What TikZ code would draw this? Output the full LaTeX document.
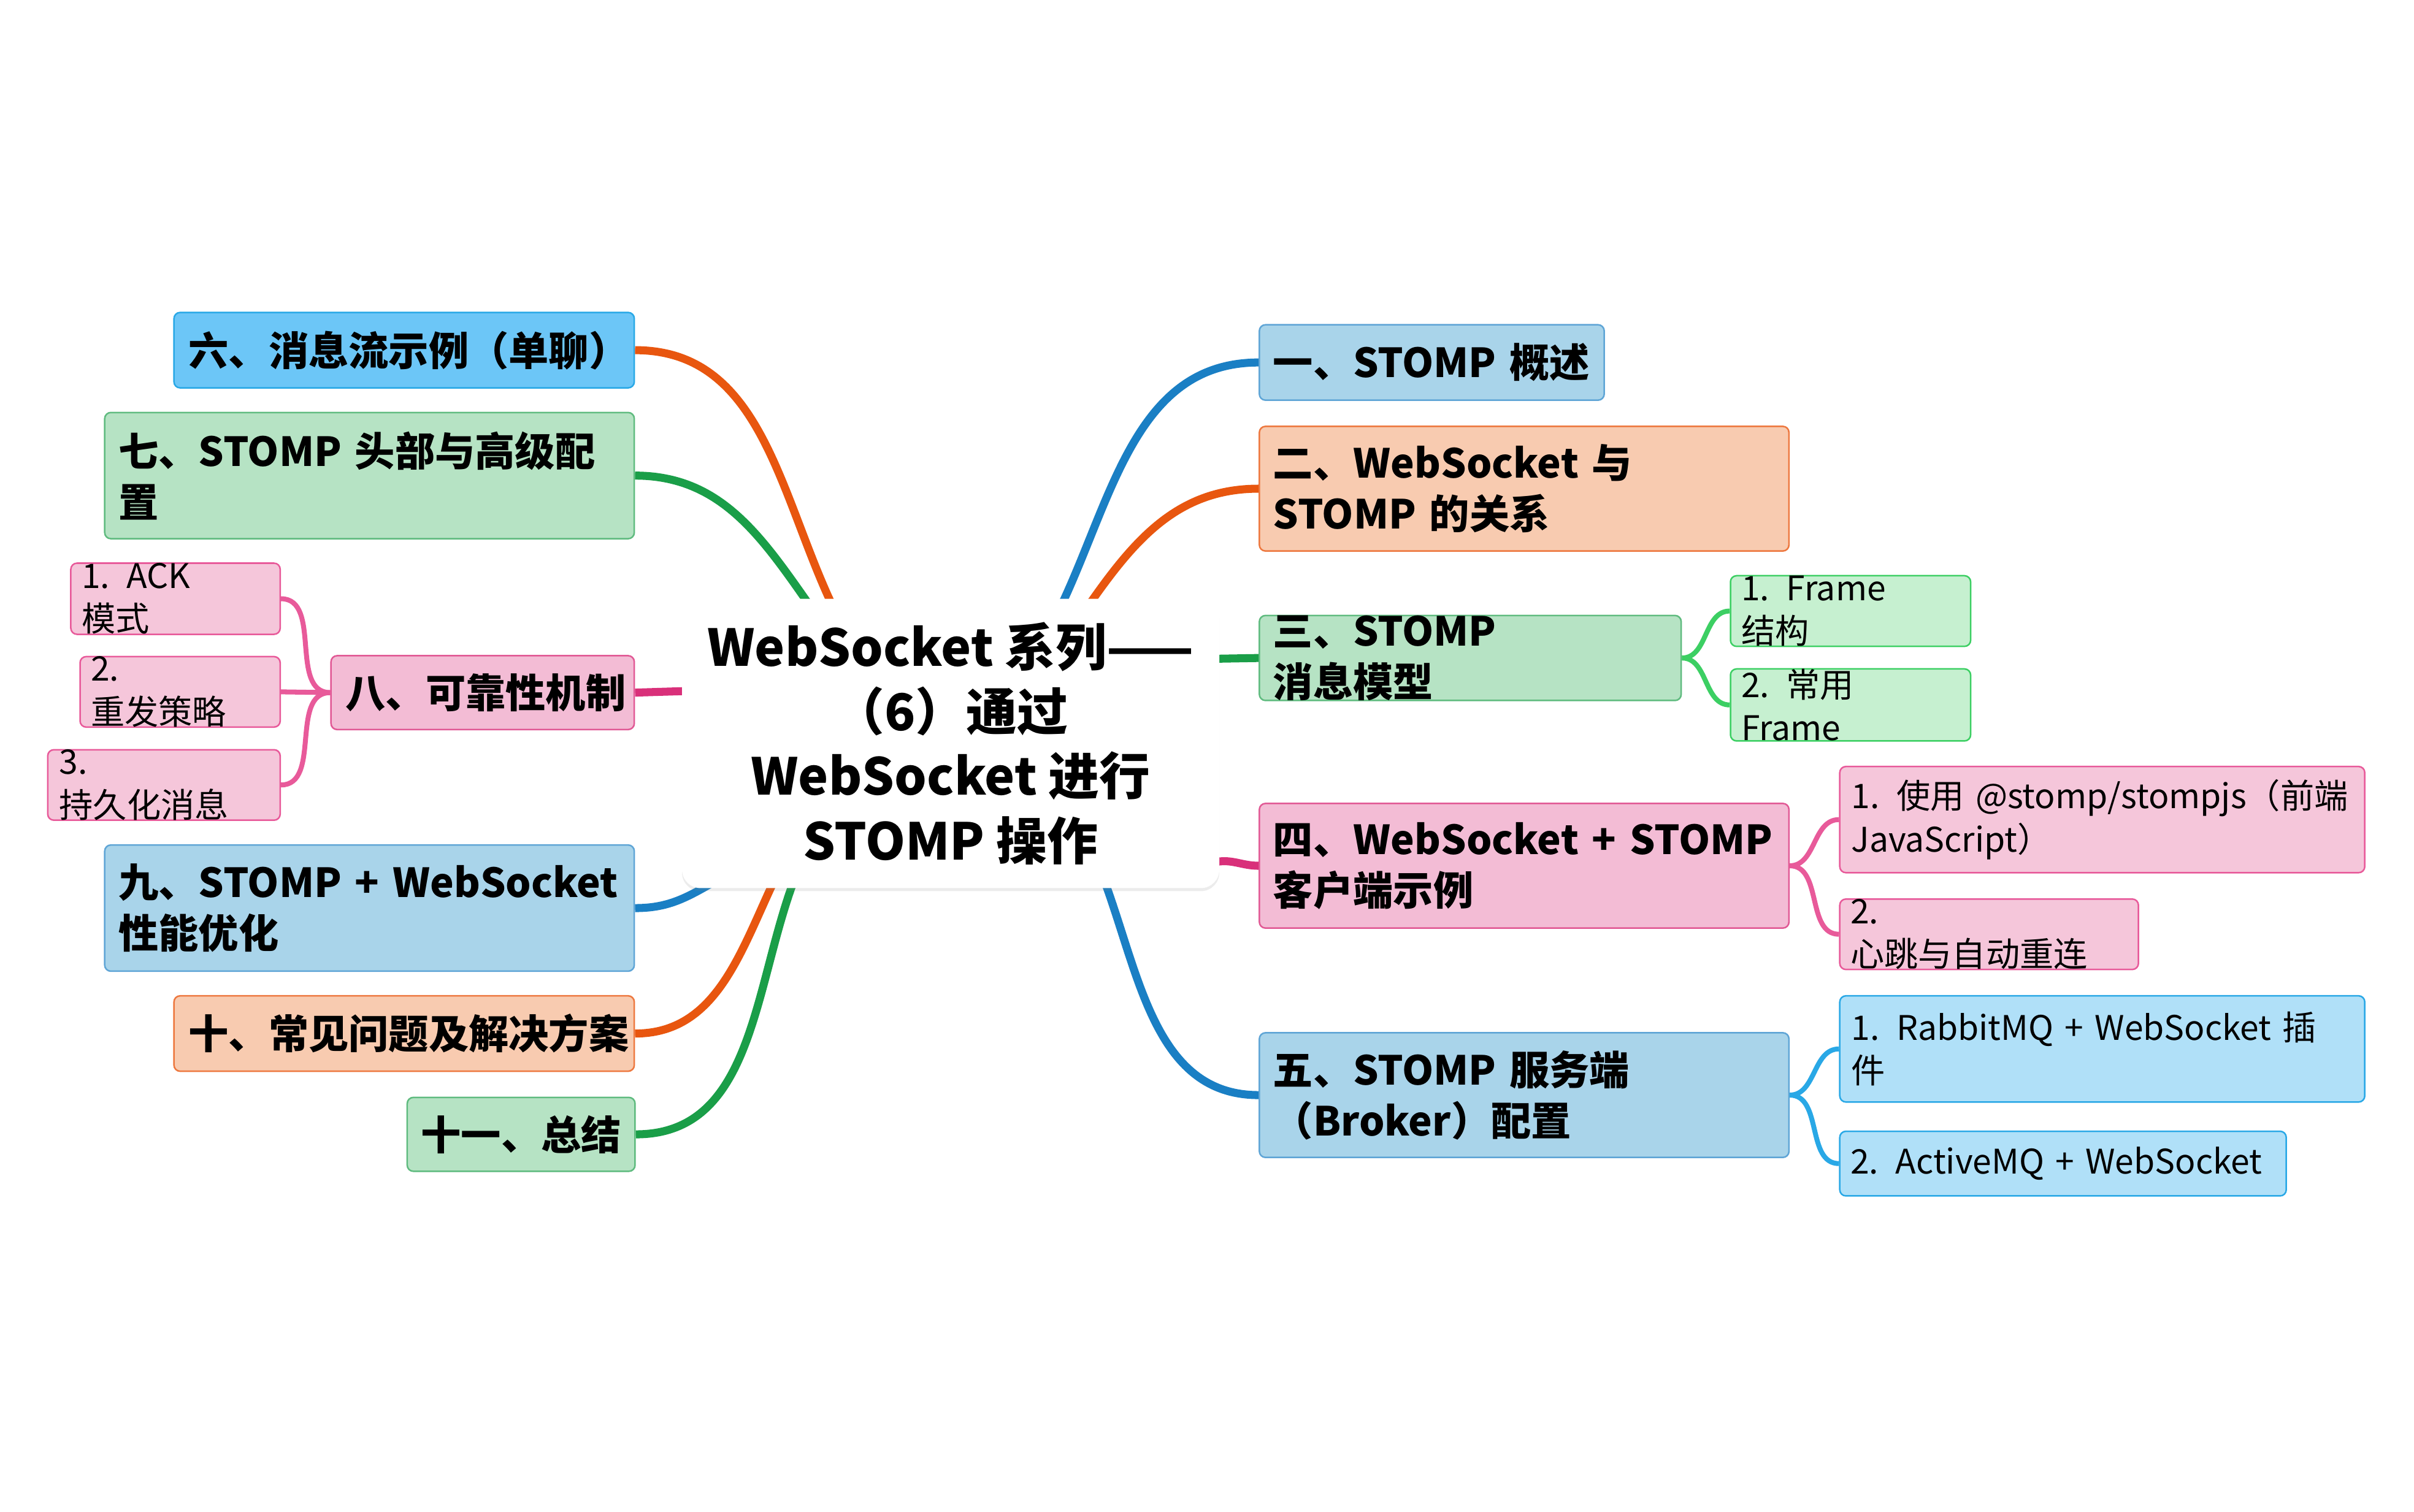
\documentclass[tikz,border=0pt]{standalone}
\usepackage{fontspec}
\setmainfont{Noto Sans CJK SC}
\usetikzlibrary{shadows}
\definecolor{lblue}{HTML}{A9D4EA}\definecolor{dblue}{HTML}{1A7FC4}
\definecolor{sky}{HTML}{6CC6F7}\definecolor{cyanf}{HTML}{B0E0F8}\definecolor{cyanl}{HTML}{29A8E6}
\definecolor{peach}{HTML}{F8CBB0}\definecolor{orng}{HTML}{E8560F}
\definecolor{lgreen}{HTML}{B6E3C4}\definecolor{dgreen}{HTML}{1A9E48}
\definecolor{vgreen}{HTML}{C6F0D0}\definecolor{bgreen}{HTML}{3CCF63}
\definecolor{lpink}{HTML}{F3BCD5}\definecolor{dpink}{HTML}{D9307A}
\definecolor{vpink}{HTML}{F5C6DA}\definecolor{bpink}{HTML}{E85A9A}
\begin{document}
\begin{tikzpicture}[x=0.5pt,y=-0.5pt,
 box/.style={draw, rounded corners=2pt, line width=0.5pt, inner xsep=4.5pt, inner ysep=0pt, align=left, font=\bfseries\fontsize{13}{16.5}\selectfont},
 leaf/.style={draw, rounded corners=2pt, line width=0.5pt, inner xsep=3.5pt, inner ysep=0pt, align=left, font=\fontsize{11}{14}\selectfont},
 conn/.style={line width=2.6pt},
 sub/.style={line width=1.6pt}]
\useasboundingbox (0,0) rectangle (1568,982);
% coordinates on center node
\coordinate (c1) at (690,392);\coordinate (c2) at (708,392);\coordinate (c3) at (790,428);
\coordinate (c4) at (790,560);\coordinate (c5) at (718,574);
\coordinate (c6) at (540,392);\coordinate (c7) at (525,392);\coordinate (c8) at (445,449);
\coordinate (c9) at (462,574);\coordinate (c10) at (502,574);\coordinate (c11) at (515,574);
% right nodes
\node[box,fill=lblue,draw=dblue!70,minimum width=224*0.5pt,minimum height=49*0.5pt,text width=103pt] (r1) at (930,235.5) {一、STOMP 概述};
\node[box,fill=peach,draw=orng!80,minimum width=344*0.5pt,minimum height=81*0.5pt,text width=163pt] (r2) at (990,317.5) {二、WebSocket 与\\STOMP 的关系};
\node[box,fill=lgreen,draw=dgreen!70,minimum width=274*0.5pt,minimum height=49*0.5pt,text width=128pt,inner xsep=4pt] (r3) at (955,427.5) {三、STOMP 消息模型};
\node[box,fill=lpink,draw=dpink!80,minimum width=344*0.5pt,minimum height=81*0.5pt,text width=163pt] (r4) at (990,562.5) {四、WebSocket + STOMP\\客户端示例};
\node[box,fill=lblue,draw=dblue!70,minimum width=344*0.5pt,minimum height=81*0.5pt,text width=163pt] (r5) at (990,711.5) {五、STOMP 服务端\\（Broker）配置};
% right leaves
\node[leaf,fill=vgreen,draw=bgreen,minimum width=156*0.5pt,minimum height=42*0.5pt,text width=71pt] (r31) at (1202,397) {1. Frame 结构};
\node[leaf,fill=vgreen,draw=bgreen,minimum width=156*0.5pt,minimum height=42*0.5pt,text width=71pt] (r32) at (1202,458) {2. 常用 Frame};
\node[leaf,fill=vpink,draw=bpink,minimum width=341*0.5pt,minimum height=69*0.5pt,text width=163pt] (r41) at (1365.5,532.5) {1. 使用 @stomp/stompjs（前端\\JavaScript）};
\node[leaf,fill=vpink,draw=bpink,minimum width=194*0.5pt,minimum height=42*0.5pt,text width=90pt] (r42) at (1292,607) {2. 心跳与自动重连};
\node[leaf,fill=cyanf,draw=cyanl,minimum width=341*0.5pt,minimum height=69*0.5pt,text width=163pt] (r51) at (1365.5,681.5) {1. RabbitMQ + WebSocket 插\\件};
\node[leaf,fill=cyanf,draw=cyanl,minimum width=290*0.5pt,minimum height=42*0.5pt,text width=138pt] (r52) at (1340,756) {2. ActiveMQ + WebSocket};
% left nodes
\node[box,fill=sky,draw=cyanl,minimum width=299*0.5pt,minimum height=49*0.5pt,text width=140pt] (l6) at (262.5,227.5) {六、消息流示例（单聊）};
\node[box,fill=lgreen,draw=dgreen!70,minimum width=344*0.5pt,minimum height=82*0.5pt,text width=163pt] (l7) at (240,309) {七、STOMP 头部与高级配\\置};
\node[box,fill=lpink,draw=dpink!80,minimum width=197*0.5pt,minimum height=48*0.5pt,text width=89pt,inner xsep=3pt] (l8) at (313.5,450) {八、可靠性机制};
\node[box,fill=lblue,draw=dblue!70,minimum width=344*0.5pt,minimum height=82*0.5pt,text width=163pt] (l9) at (240,590) {九、STOMP + WebSocket\\性能优化};
\node[box,fill=peach,draw=orng!80,minimum width=299*0.5pt,minimum height=49*0.5pt,text width=140pt] (l10) at (262.5,671.5) {十、常见问题及解决方案};
\node[box,fill=lgreen,draw=dgreen!70,minimum width=147*0.5pt,minimum height=48*0.5pt,text width=65pt] (l11) at (338.5,737) {十一、总结};
% left leaves
\node[leaf,fill=vpink,draw=bpink,minimum width=136*0.5pt,minimum height=42*0.5pt,text width=61pt] (l81) at (114,389) {1. ACK 模式};
\node[leaf,fill=vpink,draw=bpink,minimum width=130*0.5pt,minimum height=41*0.5pt,text width=58pt] (l82) at (117,449.5) {2. 重发策略};
\node[leaf,fill=vpink,draw=bpink,minimum width=151*0.5pt,minimum height=42*0.5pt,text width=68pt] (l83) at (106.5,510) {3. 持久化消息};
% connectors
\draw[conn,dblue] (r1.west) to[out=180,in=65] (c1);
\draw[conn,orng] (r2.west) to[out=180,in=55] (c2);
\draw[conn,dgreen] (r3.west) -- (c3);
\draw[conn,dpink] (r4.west) to[out=180,in=10] (c4);
\draw[conn,dblue] (r5.west) to[out=180,in=-70] (c5);
\draw[conn,orng] (l6.east) to[out=0,in=115] (c6);
\draw[conn,dgreen] (l7.east) to[out=0,in=125] (c7);
\draw[conn,dpink] (l8.east) -- (c8);
\draw[conn,dblue] (l9.east) to[out=0,in=-150] (c9);
\draw[conn,orng] (l10.east) to[out=0,in=-115] (c10);
\draw[conn,dgreen] (l11.east) to[out=0,in=-110] (c11);
\draw[sub,bgreen] (r3.east) to[out=0,in=180] (r31.west);
\draw[sub,bgreen] (r3.east) to[out=0,in=180] (r32.west);
\draw[sub,bpink] (r4.east) to[out=0,in=180] (r41.west);
\draw[sub,bpink] (r4.east) to[out=0,in=180] (r42.west);
\draw[sub,cyanl] (r5.east) to[out=0,in=180] (r51.west);
\draw[sub,cyanl] (r5.east) to[out=0,in=180] (r52.west);
\draw[sub,bpink] (l8.west) to[out=180,in=0] (l81.east);
\draw[sub,bpink] (l8.west) -- (l82.east);
\draw[sub,bpink] (l8.west) to[out=180,in=0] (l83.east);
% center
\node[fill=white,rounded corners=6pt,minimum width=349*0.5pt,minimum height=188*0.5pt,align=center,
 font=\bfseries\fontsize{16.5}{21}\selectfont,drop shadow={opacity=0.15,shadow xshift=0pt,shadow yshift=-1pt}] (c) at (617.5,483) {WebSocket 系列——\\（6）通过\\WebSocket 进行\\STOMP 操作};
\end{tikzpicture}
\end{document}
